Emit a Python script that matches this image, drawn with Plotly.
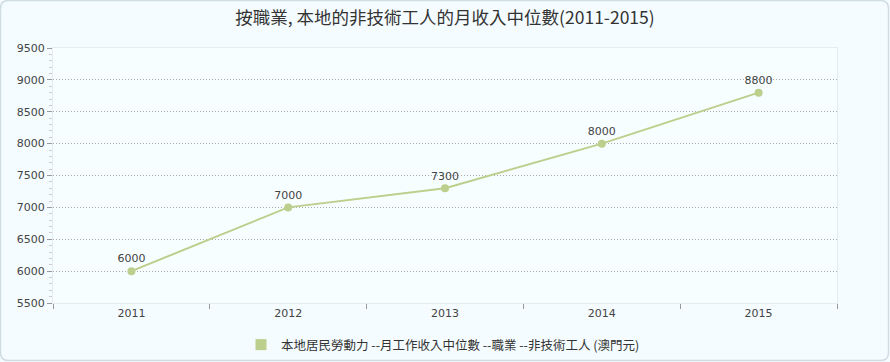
import plotly.graph_objects as go

years = ["2011", "2012", "2013", "2014", "2015"]
values = [6000, 7000, 7300, 8000, 8800]
series_name = "本地居民勞動力 --月工作收入中位數 --職業 --非技術工人 (澳門元)"
title = "按職業, 本地的非技術工人的月收入中位數(2011-2015)"

W, H = 890, 362
L, R, T, B = 53, 53, 48, 59
green = "#bccf8c"
font = "Noto Sans CJK TC, DejaVu Sans, sans-serif"
tickfont = dict(family="DejaVu Sans, sans-serif", size=11, color="#444")

fig = go.Figure()
fig.add_trace(go.Scatter(
    x=years, y=values, mode="lines+markers+text",
    name=series_name, showlegend=False,
    line=dict(color=green, width=2),
    marker=dict(color=green, size=8),
    text=[str(v) for v in values], textposition="top center",
    textfont=tickfont,
    cliponaxis=False,
))
# legend entry (square swatch)
fig.add_trace(go.Scatter(
    x=[None], y=[None], mode="markers", name=series_name,
    marker=dict(color=green, size=11, symbol="square"),
))

fig.update_layout(
    width=W, height=H,
    margin=dict(l=L, r=R, t=T, b=B, autoexpand=False),
    paper_bgcolor="#f5fcff",
    plot_bgcolor="#f7feff",
    title=dict(text=title, x=0.5, xanchor="center", y=1 - 18 / H, yanchor="middle",
               font=dict(family=font, size=17.5, color="#333")),
    showlegend=True,
    legend=dict(orientation="h", x=0.5 - 2 / (W - L - R), xanchor="center", yref="container",
                y=(H - 345) / H, yanchor="middle",
                font=dict(family=font, size=12.5, color="#333"),
                bgcolor="rgba(0,0,0,0)", itemwidth=30),
    xaxis=dict(type="category", range=[-0.5, 4.5], tickson="boundaries",
               ticks="outside", ticklen=5, tickcolor="#999",
               showgrid=False, showline=True, linecolor="#e3ecef", mirror=True,
               tickfont=tickfont, zeroline=False),
    yaxis=dict(range=[5500, 9500], dtick=500, tick0=5500,
               ticks="outside", ticklen=5, tickcolor="#999",
               showgrid=True, gridcolor="#aaaaaa", griddash="1px,2px", gridwidth=1,
               showline=True, linecolor="#e3ecef", mirror=True,
               minor=dict(dtick=100, ticks="outside", ticklen=3, tickcolor="#ccc", showgrid=False),
               tickfont=tickfont, zeroline=False),
)

# rounded border around the whole chart (pixel-based path in paper coords)
pw, ph = W - L - R, H - T - B
def px(x):
    return (x - L) / pw
def py(y):
    return (H - B - y) / ph
r = 8
x0, y0, x1, y1 = 0.5, 0.5, W - 1.5, H - 1.5
path = (f"M {px(x0+r)},{py(y0)} L {px(x1-r)},{py(y0)} Q {px(x1)},{py(y0)} {px(x1)},{py(y0+r)} "
        f"L {px(x1)},{py(y1-r)} Q {px(x1)},{py(y1)} {px(x1-r)},{py(y1)} "
        f"L {px(x0+r)},{py(y1)} Q {px(x0)},{py(y1)} {px(x0)},{py(y1-r)} "
        f"L {px(x0)},{py(y0+r)} Q {px(x0)},{py(y0)} {px(x0+r)},{py(y0)} Z")
fig.update_layout(shapes=[dict(type="path", xref="paper", yref="paper", path=path,
                               line=dict(color="#cfdde3", width=1.5), layer="below")])

fig.write_html("out.html", config={"displayModeBar": False},
               post_script="document.body.style.margin='0';document.body.style.overflow='hidden';")
